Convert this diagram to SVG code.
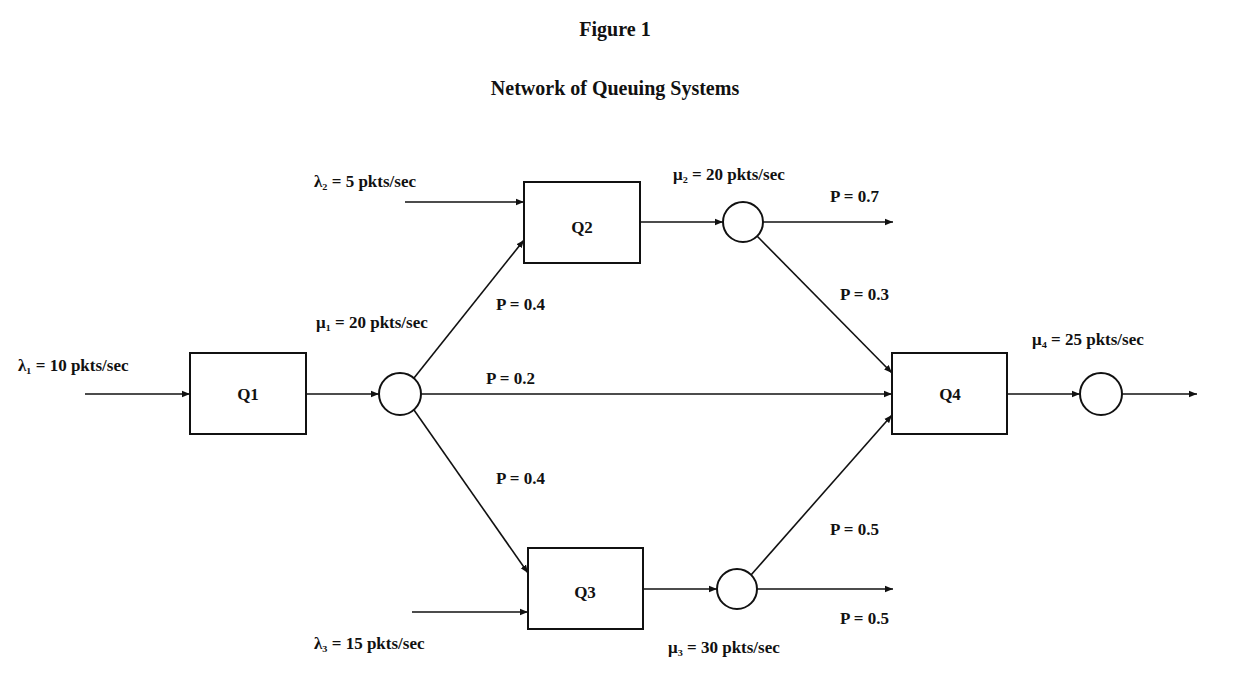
<svg xmlns="http://www.w3.org/2000/svg" width="1259" height="675" viewBox="0 0 1259 675">
<style>
text{font-family:"Liberation Serif",serif;font-weight:bold;font-size:17px;fill:#111}
.t{font-size:20px}
.b{fill:#fff;stroke:#111;stroke-width:2}
.c line{stroke:#111;stroke-width:1.6;marker-end:url(#a)}
</style>
<defs><marker id="a" viewBox="0 0 10 10" refX="10" refY="5" markerWidth="8" markerHeight="8" orient="auto" markerUnits="userSpaceOnUse"><path d="M0,1L10,5L0,9z" fill="#111"/></marker></defs>
<rect width="1259" height="675" fill="#fff"/>
<text class="t" x="615" y="36" text-anchor="middle">Figure 1</text>
<text class="t" x="615" y="95" text-anchor="middle">Network of Queuing Systems</text>
<g class="c">
<line x1="85" y1="394" x2="190" y2="394"/>
<line x1="306" y1="394" x2="379" y2="394"/>
<line x1="414" y1="378" x2="524" y2="240"/>
<line x1="421" y1="394" x2="892" y2="394"/>
<line x1="414" y1="410" x2="528" y2="573"/>
<line x1="405" y1="202" x2="524" y2="202"/>
<line x1="640" y1="222" x2="723" y2="222"/>
<line x1="763" y1="222" x2="893" y2="222"/>
<line x1="757" y1="236" x2="892" y2="373"/>
<line x1="412" y1="612" x2="528" y2="612"/>
<line x1="643" y1="589" x2="717" y2="589"/>
<line x1="757" y1="589" x2="893" y2="589"/>
<line x1="751" y1="575" x2="892" y2="415"/>
<line x1="1007" y1="394" x2="1080" y2="394"/>
<line x1="1122" y1="394" x2="1197" y2="394"/>
</g>
<g id="Q1"><rect class="b" x="190" y="353" width="116" height="81"/><text x="248" y="400" text-anchor="middle">Q1</text></g>
<g id="Q2"><rect class="b" x="524" y="182" width="116" height="81"/><text x="582" y="233" text-anchor="middle">Q2</text></g>
<g id="Q3"><rect class="b" x="528" y="548" width="115" height="81"/><text x="585" y="598" text-anchor="middle">Q3</text></g>
<g id="Q4"><rect class="b" x="892" y="353" width="115" height="81"/><text x="950" y="400" text-anchor="middle">Q4</text></g>
<g id="S1"><circle class="b" cx="400" cy="394" r="21"/></g>
<g id="S2"><circle class="b" cx="743" cy="222" r="20"/></g>
<g id="S3"><circle class="b" cx="737" cy="589" r="20"/></g>
<g id="S4"><circle class="b" cx="1101" cy="394" r="21"/></g>
<text x="18" y="371">λ₁ = 10 pkts/sec</text>
<text x="314" y="187">λ₂ = 5 pkts/sec</text>
<text x="314" y="649">λ₃ = 15 pkts/sec</text>
<text x="316" y="328">μ₁ = 20 pkts/sec</text>
<text x="673" y="180">μ₂ = 20 pkts/sec</text>
<text x="668" y="653">μ₃ = 30 pkts/sec</text>
<text x="1032" y="345">μ₄ = 25 pkts/sec</text>
<text x="496" y="310">P = 0.4</text>
<text x="486" y="384">P = 0.2</text>
<text x="496" y="484">P = 0.4</text>
<text x="830" y="202">P = 0.7</text>
<text x="840" y="300">P = 0.3</text>
<text x="830" y="535">P = 0.5</text>
<text x="840" y="624">P = 0.5</text>
</svg>
